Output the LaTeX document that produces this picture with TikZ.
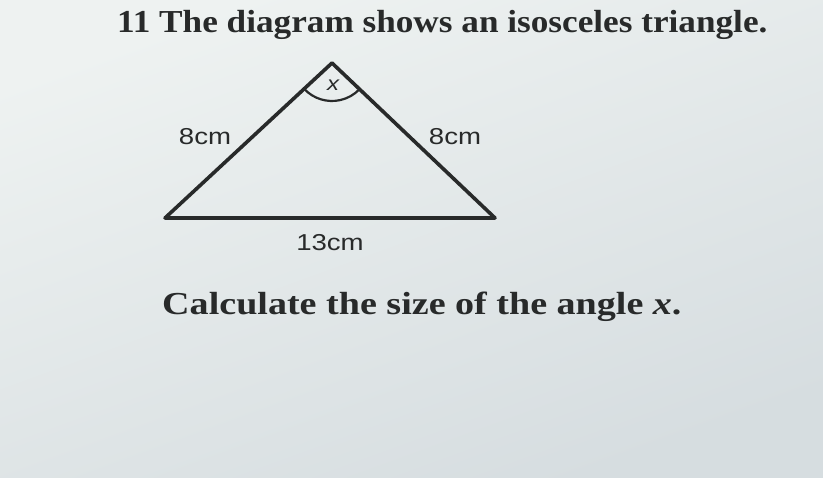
\documentclass[tikz,border=0pt]{standalone}
\usepackage{fontspec}
\setmainfont{Liberation Serif}
\newfontfamily\labfont{Liberation Sans}
\usetikzlibrary{angles}
\definecolor{bgtop}{RGB}{238,242,241}
\definecolor{bgbot}{RGB}{214,221,224}
\definecolor{ink}{RGB}{40,42,42}
\tikzset{
  edge/.style={draw=ink, line width=3.6pt, line join=round, line cap=round},
  arcmark/.style={draw=ink, line width=2.2pt},
  textline/.style={anchor=base west, inner sep=0pt, text=ink, font=\fontsize{32}{36}\selectfont\bfseries},
  sidelabel/.style={inner sep=0pt, text=ink, xscale=1.2, font=\labfont\fontsize{23}{26}\selectfont}
}
\begin{document}
\begin{tikzpicture}[x=1pt,y=-1pt]
\shade[top color=bgtop, bottom color=bgbot, shading angle=20] (0,0) rectangle (823,478);
\useasboundingbox (0,0) rectangle (823,478);
\node[textline, xscale=1.10] (title) at (117,33) {11 The diagram shows an isosceles triangle.};
\coordinate (A) at (332,63);
\coordinate (B) at (165,218);
\coordinate (C) at (495,218);
\draw[edge] (B) -- (A) -- (C) -- cycle;
\pic[arcmark, angle radius=38pt] {angle = B--A--C};
\node[sidelabel, xscale=1, font=\labfont\itshape\fontsize{20}{22}\selectfont] (x) at (333,85) {x};
\node[sidelabel] (l1) at (205,137) {8cm};
\node[sidelabel] (l2) at (455,137) {8cm};
\node[sidelabel] (l3) at (330,243) {13cm};
\node[textline, xscale=1.19] (q) at (162,315) {Calculate the size of the angle \textit{x}.};
\end{tikzpicture}
\end{document}
